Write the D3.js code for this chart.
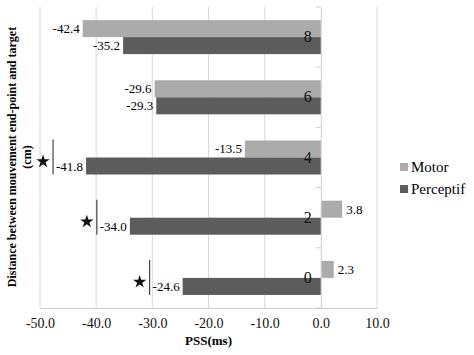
<!DOCTYPE html>
<html>
<head>
<meta charset="utf-8">
<script src="https://cdn.jsdelivr.net/npm/d3@7"></script>
</head>
<body style="margin:0;background:#fff;font-family:'Liberation Serif','Times New Roman',serif">
<svg id="chart" width="474" height="355" font-family="Liberation Serif"></svg>
<script>
const categories = ["8", "6", "4", "2", "0"];
const seriesNames = ["Motor", "Perceptif"];
const motorValues = [-42.4, -29.6, -13.5, 3.8, 2.3];
const perceptifValues = [-35.2, -29.3, -41.8, -34.0, -24.6];
const significantCategories = ["4", "2", "0"];
const xTickValues = [-50, -40, -30, -20, -10, 0, 10];
const colors = ["#ababab", "#5c5c5c"];

const FONT = "Liberation Serif";
const fmt = v => d3.format(".1f")(v).replace("\u2212", "-");
const svg = d3.select("#chart");
const plot = { left: 40, right: 377, top: 7, bottom: 308 };

const x = d3.scaleLinear().domain([-50, 10]).range([plot.left, plot.right]);
const y = d3.scaleBand().domain(categories).range([plot.top, plot.bottom]).paddingInner(0.435).paddingOuter(0.2175);
const sub = d3.scaleBand().domain(seriesNames).range([0, y.bandwidth()]);

function txt(sel, size, bold) {
  return sel.attr("font-family", FONT)
    .attr("font-size", size).attr("font-weight", bold ? "bold" : null);
}

// gridlines
svg.append("g").selectAll("line").data(xTickValues.filter(v => v !== 0)).join("line")
  .attr("x1", d => x(d)).attr("x2", d => x(d))
  .attr("y1", plot.top).attr("y2", plot.bottom)
  .attr("stroke", "#d9d9d9").attr("stroke-width", 1);

// bottom axis
const xAxis = d3.axisBottom(x).tickValues(xTickValues).tickFormat(fmt).tickSize(0).tickPadding(10);
const gx = svg.append("g").attr("transform", `translate(0,${plot.bottom})`).call(xAxis);
gx.attr("font-family", FONT);
gx.select(".domain").attr("stroke", "#d0d0d0");
txt(gx.selectAll("text"), 14).attr("fill", "#111");

// bars
const rows = categories.map((c, i) => ({ cat: c, vals: [motorValues[i], perceptifValues[i]] }));
const g = svg.append("g");
rows.forEach(r => {
  r.vals.forEach((v, j) => {
    const yy = y(r.cat) + sub(seriesNames[j]);
    g.append("rect")
      .attr("x", Math.min(x(0), x(v)))
      .attr("y", yy)
      .attr("width", Math.abs(x(v) - x(0)))
      .attr("height", sub.bandwidth())
      .attr("fill", colors[j]);
    txt(g.append("text"), 13)
      .attr("x", v < 0 ? x(v) - 3 : x(v) + 4)
      .attr("y", yy + sub.bandwidth() / 2 + 4.5)
      .attr("text-anchor", v < 0 ? "end" : "start")
      .text(fmt(v));
  });
});

// zero axis with category labels
const yAxis = d3.axisLeft(y).tickSize(0).tickPadding(9);
const gy = svg.append("g").attr("transform", `translate(${x(0)},0)`).call(yAxis);
gy.attr("font-family", FONT);
gy.select(".domain").attr("stroke", "#d0d0d0");
txt(gy.selectAll("text"), 16).attr("fill", "#111");
const bounds = d3.range(categories.length + 1).map(i => plot.top + i * (plot.bottom - plot.top) / categories.length);
svg.append("g").selectAll("line").data(bounds).join("line")
  .attr("x1", x(0) - 5).attr("x2", x(0))
  .attr("y1", d => d).attr("y2", d => d)
  .attr("stroke", "#d0d0d0");

// significance marks
significantCategories.forEach(c => {
  const i = categories.indexOf(c);
  const v = perceptifValues[i];
  const cy = y(c) + y.bandwidth() / 2;
  const lx = x(v) - 33;
  svg.append("line")
    .attr("x1", lx).attr("x2", lx)
    .attr("y1", cy - 18).attr("y2", cy + 17)
    .attr("stroke", "#222").attr("stroke-width", 1);
  svg.append("path")
    .attr("d", d3.symbol(d3.symbolStar).size(55)())
    .attr("transform", `translate(${lx - 10},${cy + 4})`)
    .attr("fill", "#111");
});

// axis titles
txt(svg.append("text"), 13, true)
  .attr("x", (plot.left + plot.right) / 2).attr("y", 345)
  .attr("text-anchor", "middle")
  .text("PSS(ms)");
const yt = txt(svg.append("text"), 12, true)
  .attr("transform", `translate(16,157) rotate(-90)`)
  .attr("text-anchor", "middle");
yt.append("tspan").attr("x", 0).attr("y", 0).text("Distance between mouvement end-point and target");
yt.append("tspan").attr("x", 0).attr("y", 15).text("(cm)");

// legend
const legend = svg.append("g").attr("transform", "translate(400,167)");
seriesNames.forEach((s, i) => {
  const row = legend.append("g").attr("transform", `translate(0,${i * 22})`);
  row.append("rect").attr("x", 0).attr("y", -4).attr("width", 8).attr("height", 8).attr("fill", colors[i]);
  txt(row.append("text"), 15).attr("x", 11).attr("y", 5).text(s);
});
</script>
</body>
</html>
